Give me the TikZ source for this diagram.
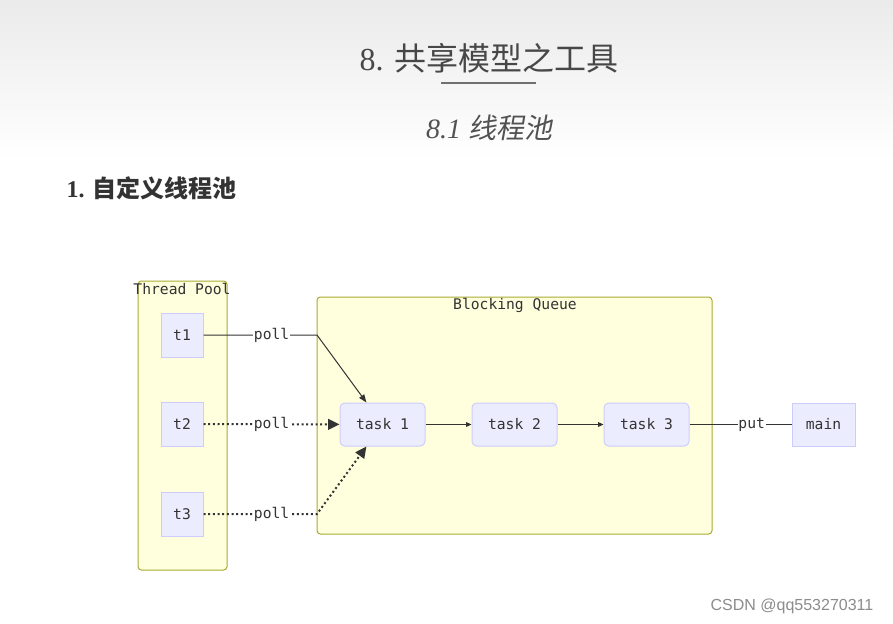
\documentclass[tikz,border=0pt]{standalone}
\usepackage{fontspec}
\setmainfont{Liberation Serif}
\setsansfont{Liberation Sans}
\setmonofont{DejaVu Sans Mono}
\newfontfamily\cjk{Noto Sans CJK SC}
\newfontfamily\cjkslant[FakeSlant=0.18]{Noto Sans CJK SC}
\newfontfamily\cjkbold{Noto Sans CJK SC Bold}
\usetikzlibrary{arrows.meta,positioning,calc}
\definecolor{ink}{HTML}{333333}
\definecolor{groupfill}{HTML}{FFFFDE}
\definecolor{groupline}{HTML}{AAAA33}
\definecolor{nodefill}{HTML}{ECECFF}
\definecolor{nodeline}{HTML}{CCCCFF}

\begin{document}
\begin{tikzpicture}[x=0.75pt, y=-0.75pt,
    group/.style={draw=groupline, fill=groupfill, line width=0.75pt, rounded corners=2.5pt},
    grouplabel/.style={font=\ttfamily\fontsize{11}{13}\selectfont, text=ink, inner sep=0pt},
    thread/.style={draw=nodeline, fill=nodefill, line width=0.75pt,
      minimum width=31.5pt, minimum height=33pt, inner sep=0pt,
      font=\ttfamily\fontsize{11}{13}\selectfont, text=ink},
    task/.style={thread, rounded corners=3.5pt, minimum width=63.75pt, minimum height=32.25pt},
    flow/.style={draw=ink, line width=0.75pt},
    lazy/.style={draw=ink, line width=1.5pt, dotted},
    lbl/.style={fill=white, inner sep=0.5pt, font=\ttfamily\fontsize{11}{13}\selectfont, text=ink},
  ]

  \useasboundingbox (0,0) rectangle (893,624);
  \fill[white] (0,0) rectangle (893,624);
  \shade[top color=black!8, bottom color=white] (0,0) rectangle (893,160);

  % ---- slide headings ----
  \node[text=ink!90] (title) at (489,58)
    {\fontsize{24}{28}\selectfont 8. \cjk 共享模型之工具};
  \draw[ink!70, line width=1pt] (441,83) -- (536,83);
  \node[text=ink!85] (subtitle) at (489,128)
    {\fontsize{21}{25}\selectfont\itshape 8.1 \cjkslant 线程池};
  \node[anchor=west, text=ink] (heading) at (62,188)
    {\fontsize{18}{22}\selectfont\bfseries 1. \cjkbold 自定义线程池};

  % ---- containers ----
  \node[group, minimum width=66.75pt, minimum height=216.75pt] (pool) at (182.5,425.5) {};
  \node[grouplabel] (poollabel) at (182,289) {Thread Pool};
  \node[group, minimum width=296.25pt, minimum height=177.75pt] (queue) at (514.5,415.5) {};
  \node[grouplabel] (queuelabel) at (515,305) {Blocking Queue};

  % ---- threads ----
  \node[thread] (t1) at (182,335) {t1};
  \node[thread] (t2) at (182,424) {t2};
  \node[thread] (t3) at (182,514) {t3};

  % ---- tasks in the queue, and main ----
  \node[task] (task1) at (382.5,424.5) {task 1};
  \node[task] (task2) at (514.5,424.5) {task 2};
  \node[task] (task3) at (646.5,424.5) {task 3};
  \node[thread, minimum width=47.25pt, minimum height=32.25pt] (main) at (823.5,424.5) {main};

  % bends on the queue's left edge
  \coordinate (k1) at (317,335);
  \coordinate (k3) at (317,514);

  % ---- connectors ----
  \draw[flow, -{Triangle[length=6pt, width=4.5pt]}] (t1) -- node[lbl, pos=0.6] {poll} (k1) -- (task1);
  \draw[lazy, -{Triangle[length=8.5pt, width=8pt]}] (t2) -- node[lbl, pos=0.5] {poll} (task1);
  \draw[lazy, -{Triangle[length=8.5pt, width=8pt]}] (t3) -- node[lbl, pos=0.6] {poll} (k3) -- (task1);
  \draw[flow, -{Triangle[length=4pt, width=3.5pt]}] (task1) -- (task2);
  \draw[flow, -{Triangle[length=4pt, width=3.5pt]}] (task2) -- (task3);
  \draw[flow] (task3) -- node[lbl, pos=0.61] {put} (main);

  % ---- watermark ----
  \node[text=black!45, font=\sffamily\fontsize{12}{14}\selectfont] (mark) at (792,606) {CSDN @qq553270311};

\end{tikzpicture}
\end{document}
